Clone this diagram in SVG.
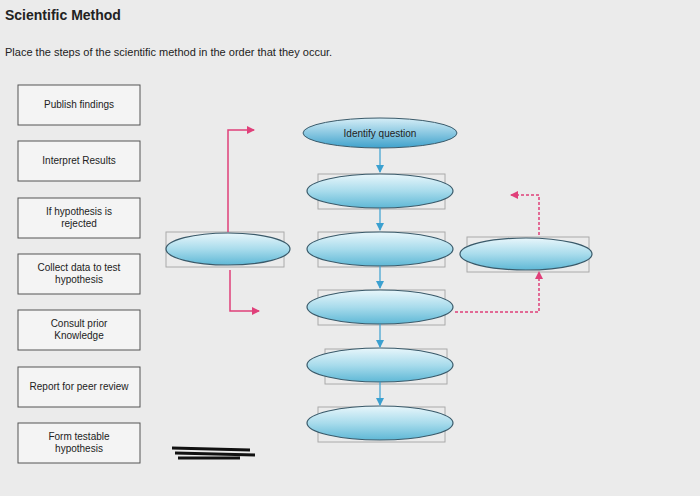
<svg xmlns="http://www.w3.org/2000/svg" width="700" height="496" viewBox="0 0 700 496">
<defs>
<linearGradient id="g" x1="0" y1="0" x2="0" y2="1"><stop offset="0" stop-color="#e8f6fb"/><stop offset="0.5" stop-color="#a9dcec"/><stop offset="1" stop-color="#5fb8d6"/></linearGradient>
<linearGradient id="g2" x1="0" y1="0" x2="0" y2="1"><stop offset="0" stop-color="#d6eef7"/><stop offset="1" stop-color="#3fa2cc"/></linearGradient>
<marker id="pk" markerWidth="8" markerHeight="8" refX="7" refY="4" orient="auto" markerUnits="userSpaceOnUse"><path d="M0,0 L8,4 L0,8z" fill="#e0407a"/></marker>
<marker id="bl" markerWidth="8" markerHeight="8" refX="7" refY="4" orient="auto" markerUnits="userSpaceOnUse"><path d="M0,0 L8,4 L0,8z" fill="#3aa0d0"/></marker>
</defs>
<style>
text{font-family:"Liberation Sans",Arial,sans-serif;fill:#222}
.b{fill:#f4f4f4;stroke:#555;stroke-width:1}
.t{font-size:10px;text-anchor:middle}
.e{fill:url(#g);stroke:#3a5a6a;stroke-width:1.2}
.r{fill:none;stroke:#aaa;stroke-width:1}
.p{stroke:#e0407a;stroke-width:1.5;fill:none}
.d{stroke:#e0407a;stroke-width:1.5;fill:none;stroke-dasharray:3,2}
.a{stroke:#3aa0d0;stroke-width:1.2;fill:none}
</style>
<rect width="700" height="496" fill="#ebebeb"/>
<text x="5" y="20" font-size="14" font-weight="bold">Scientific Method</text>
<text x="5" y="56" font-size="11">Place the steps of the scientific method in the order that they occur.</text>
<g id="n1"><rect class="b" x="18" y="85" width="122" height="40"/><text class="t" x="79" y="108">Publish findings</text></g>
<g id="n2"><rect class="b" x="18" y="141" width="122" height="40"/><text class="t" x="79" y="164">Interpret Results</text></g>
<g id="n3"><rect class="b" x="18" y="198" width="122" height="40"/><text class="t" x="79" y="215">If hypothesis is</text><text class="t" x="79" y="227">rejected</text></g>
<g id="n4"><rect class="b" x="18" y="254" width="122" height="40"/><text class="t" x="79" y="271">Collect data to test</text><text class="t" x="79" y="283">hypothesis</text></g>
<g id="n5"><rect class="b" x="18" y="310" width="122" height="40"/><text class="t" x="79" y="327">Consult prior</text><text class="t" x="79" y="339">Knowledge</text></g>
<g id="n6"><rect class="b" x="18" y="367" width="122" height="40"/><text class="t" x="79" y="390">Report for peer review</text></g>
<g id="n7"><rect class="b" x="18" y="423" width="122" height="40"/><text class="t" x="79" y="440">Form testable</text><text class="t" x="79" y="452">hypothesis</text></g>
<g id="c1"><ellipse cx="380" cy="133" rx="77" ry="15" fill="url(#g2)" stroke="#3a5a6a"/><text class="t" x="380" y="137">Identify question</text></g>
<g id="c2"><rect class="r" x="318" y="174" width="127" height="35"/><ellipse class="e" cx="380" cy="191" rx="73" ry="17"/></g>
<g id="c3"><rect class="r" x="318" y="232" width="127" height="35"/><ellipse class="e" cx="380" cy="249" rx="73" ry="17"/></g>
<g id="c4"><rect class="r" x="318" y="290" width="127" height="35"/><ellipse class="e" cx="380" cy="307" rx="73" ry="17"/></g>
<g id="c5"><rect class="r" x="325" y="349" width="122" height="35"/><ellipse class="e" cx="380" cy="365" rx="73" ry="17"/></g>
<g id="c6"><rect class="r" x="318" y="407" width="127" height="35"/><ellipse class="e" cx="380" cy="423" rx="73" ry="17"/></g>
<g id="l1"><rect class="r" x="166" y="232" width="118" height="35"/><ellipse class="e" cx="228" cy="249" rx="62" ry="16"/></g>
<g id="r1"><rect class="r" x="467" y="237" width="122" height="35"/><ellipse class="e" cx="526" cy="254" rx="66" ry="16"/></g>
<g id="connectors">
<path class="a" d="M380 148V172" marker-end="url(#bl)"/>
<path class="a" d="M380 208V230" marker-end="url(#bl)"/>
<path class="a" d="M380 266V288" marker-end="url(#bl)"/>
<path class="a" d="M380 324V347" marker-end="url(#bl)"/>
<path class="a" d="M380 382V405" marker-end="url(#bl)"/>
<path class="p" d="M228 232V130H254" marker-end="url(#pk)"/>
<path class="p" d="M230 270V311H259" marker-end="url(#pk)"/>
<path class="d" d="M455 312H539V272" marker-end="url(#pk)"/>
<path class="d" d="M539 235V195H511" marker-end="url(#pk)"/>
</g>
<path d="M172 448 L250 450 M175 453 L255 455 M178 458 L240 458" stroke="#111" stroke-width="3" fill="none"/>
</svg>
